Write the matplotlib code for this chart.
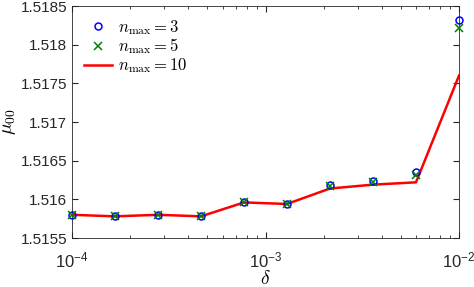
import matplotlib.pyplot as plt
import numpy as np

plt.rcParams['font.family'] = ['Liberation Sans', 'DejaVu Sans']
plt.rcParams['mathtext.fontset'] = 'cm'

delta = [1.0e-4, 1.668e-4, 2.783e-4, 4.642e-4, 7.743e-4,
         1.292e-3, 2.154e-3, 3.594e-3, 5.995e-3, 1.0e-2]
mu_n3 = [1.51580, 1.51578, 1.51580, 1.51578, 1.51596,
         1.51594, 1.51618, 1.51624, 1.51635, 1.51832]
mu_n5 = [1.51580, 1.51578, 1.51580, 1.51578, 1.51596,
         1.51594, 1.51617, 1.51623, 1.51632, 1.51821]
mu_n10 = [1.51580, 1.51578, 1.51580, 1.51578, 1.51596,
          1.51594, 1.51614, 1.51619, 1.51622, 1.51760]

yticks = [1.5155, 1.516, 1.5165, 1.517, 1.5175, 1.518, 1.5185]
ytick_labels = ['1.5155', '1.516', '1.5165', '1.517', '1.5175', '1.518', '1.5185']

fig = plt.figure(figsize=(4.74, 2.87), dpi=100)
ax = fig.add_axes([72 / 474, 1 - 238 / 287, (459 - 72) / 474, (238 - 6) / 287])

ax.plot(delta, mu_n3, 'o', color='#0000ff', mfc='none', ms=5, mew=1.1,
        label=r'$n_{\max} = 3$', clip_on=False, zorder=3)
ax.plot(delta, mu_n5, 'x', color='#008000', ms=6, mew=1.1,
        label=r'$n_{\max} = 5$', clip_on=False, zorder=3)
ax.plot(delta, mu_n10, '-', color='#ff0000', lw=1.8,
        label=r'$n_{\max} = 10$', zorder=2)

ax.set_xscale('log')
ax.set_xlim(1e-4, 1e-2)
ax.set_ylim(1.5155, 1.5185)
ax.set_yticks(yticks)
ax.set_yticklabels(ytick_labels)
ax.set_xticks([1e-4, 1e-3, 1e-2])
ax.set_xticklabels(['$\\mathregular{10^{-4}}$', '$\\mathregular{10^{-3}}$',
                    '$\\mathregular{10^{-2}}$'])

ax.tick_params(which='both', direction='in', top=True, right=True,
               labelsize=11, colors='#262626', labelcolor='#262626')
ax.tick_params(which='major', length=4)
ax.tick_params(which='minor', length=2.5)
ax.tick_params(axis='x', which='major', pad=9, labelsize=12)
for s in ax.spines.values():
    s.set_color('#262626')
    s.set_linewidth(0.6)

ax.set_xlabel(r'$\delta$', fontsize=14, labelpad=0)
ax.set_ylabel(r'$\mu_{00}$', fontsize=14, labelpad=2)

ax.legend(loc='upper left', frameon=False, fontsize=12, handlelength=1.7,
          handletextpad=0.35, borderaxespad=0.35, borderpad=0.35,
          labelspacing=0.0)

fig.savefig('out.png', dpi=100)
